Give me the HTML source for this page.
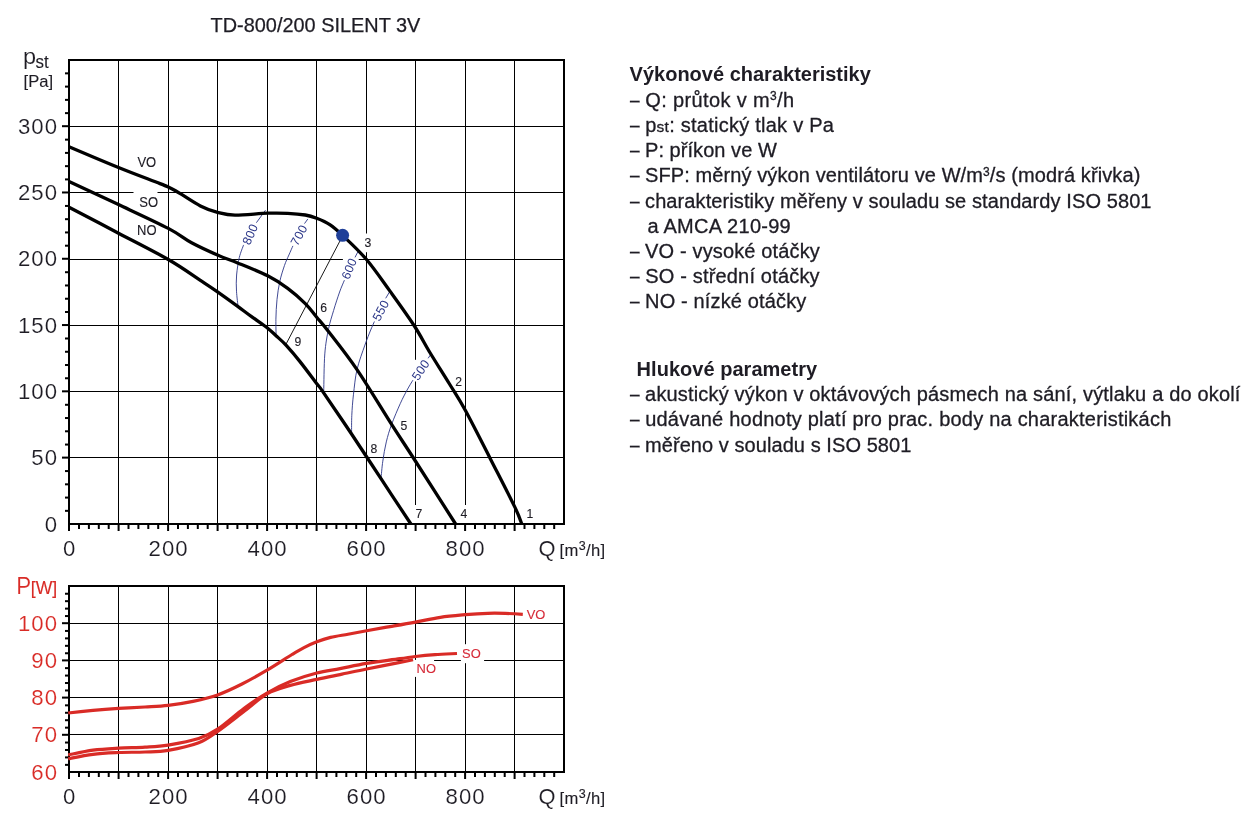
<!DOCTYPE html>
<html lang="cs">
<head>
<meta charset="utf-8">
<title>TD-800/200 SILENT 3V</title>
<style>
html,body{margin:0;padding:0;background:#fff;}
body{width:1255px;height:821px;position:relative;overflow:hidden;font-family:"Liberation Sans",sans-serif;color:#1e1c24;}
svg{position:absolute;left:0;top:0;display:block;}
.l{position:absolute;white-space:nowrap;font-size:20px;line-height:23px;height:23px;-webkit-text-stroke:0.3px #1e1c24;}
.l.b{font-weight:bold;-webkit-text-stroke:0;}
.l sup{font-size:12px;line-height:0;vertical-align:baseline;position:relative;top:-6.5px;}
.l .sm{font-size:15.5px;}
.l .d{display:inline-block;width:9.8px;transform:scaleX(0.86);transform-origin:0 50%;letter-spacing:0;}
#title{position:absolute;left:210.6px;top:14.1px;font-size:19.9px;line-height:23px;white-space:nowrap;-webkit-text-stroke:0.25px #1e1c24;}
</style>
</head>
<body>
<svg width="1255" height="821" viewBox="0 0 1255 821" font-family="'Liberation Sans', sans-serif" stroke-linecap="butt">
<g fill="#000" shape-rendering="crispEdges"><rect x="118" y="60" width="1" height="464"/><rect x="168" y="60" width="1" height="464"/><rect x="217" y="60" width="1" height="464"/><rect x="267" y="60" width="1" height="464"/><rect x="316" y="60" width="1" height="464"/><rect x="366" y="60" width="1" height="464"/><rect x="415" y="60" width="1" height="464"/><rect x="465" y="60" width="1" height="464"/><rect x="514" y="60" width="1" height="464"/><rect x="69" y="126" width="495" height="1"/><rect x="69" y="192" width="495" height="1"/><rect x="69" y="259" width="495" height="1"/><rect x="69" y="325" width="495" height="1"/><rect x="69" y="391" width="495" height="1"/><rect x="69" y="457" width="495" height="1"/></g>
<rect x="133.5" y="190.4" width="24.0" height="4.0" fill="#fff"/>
<rect x="342.9" y="257.5" width="15.8" height="4.0" fill="#fff"/>
<rect x="364.5" y="233.5" width="4.0" height="18.7" fill="#fff"/>
<rect x="413.6" y="505.0" width="4.0" height="19.0" fill="#fff"/>
<rect x="463.4" y="505.0" width="4.0" height="19.0" fill="#fff"/>
<rect x="413.5" y="359.8" width="4.0" height="21.7" fill="#fff"/>
<path d="M265.5 210.2L256.4 222.7" stroke="#2b3688" stroke-width="0.9" fill="none"/>
<path d="M243.6 244.9C242.9 247.0 240.5 252.5 239.3 257.5C238.1 262.5 237.1 269.4 236.6 275.0C236.1 280.6 236.2 285.8 236.5 291.2C236.8 296.6 237.9 304.9 238.2 307.6" stroke="#2b3688" stroke-width="0.9" fill="none"/>
<path d="M307.8 219.0L304.5 223.6" stroke="#2b3688" stroke-width="0.9" fill="none"/>
<path d="M292.9 245.9C292.2 247.4 290.3 251.8 288.9 255.0C287.5 258.2 286.0 261.0 284.5 265.4C283.0 269.8 281.1 275.7 279.8 281.4C278.6 287.1 277.6 293.2 277.0 299.5C276.4 305.8 276.0 313.1 275.9 319.2C275.8 325.3 276.1 333.4 276.1 336.3" stroke="#2b3688" stroke-width="0.9" fill="none"/>
<path d="M357.8 251.9L355.0 257.4" stroke="#2b3688" stroke-width="0.9" fill="none"/>
<path d="M344.4 280.2C343.6 282.2 341.4 286.9 339.6 292.0C337.8 297.1 335.4 304.4 333.6 310.5C331.8 316.6 330.1 321.4 328.6 328.6C327.1 335.8 325.6 343.4 324.8 353.9C324.0 364.4 323.9 385.2 323.7 391.5" stroke="#2b3688" stroke-width="0.9" fill="none"/>
<path d="M389.9 291.3L385.7 298.3" stroke="#2b3688" stroke-width="0.9" fill="none"/>
<path d="M374.4 321.5C373.8 322.9 372.3 326.1 370.7 330.0C369.1 333.9 367.2 338.5 364.9 345.1C362.6 351.7 358.9 361.4 357.0 369.6C355.1 377.8 354.4 386.6 353.5 394.2C352.6 401.8 352.1 408.9 351.8 415.3C351.5 421.7 351.6 429.6 351.6 432.5" stroke="#2b3688" stroke-width="0.9" fill="none"/>
<path d="M430.9 354.3L428.1 358.3" stroke="#2b3688" stroke-width="0.9" fill="none"/>
<path d="M412.9 380.2C411.9 381.8 409.2 386.1 407.1 390.0C405.0 393.9 403.0 397.6 400.4 403.3C397.8 409.0 394.0 418.0 391.6 424.4C389.2 430.8 387.8 435.8 386.3 441.9C384.8 448.0 383.7 455.1 382.8 461.2C381.9 467.3 381.3 475.8 381.0 478.7" stroke="#2b3688" stroke-width="0.9" fill="none"/>
<line x1="342.9" y1="235.3" x2="285.8" y2="344.6" stroke="#000" stroke-width="0.9"/>
<path d="M69.0 146.7C77.2 150.2 103.3 161.3 118.5 167.5C133.7 173.7 151.7 180.3 160.0 183.6C168.3 186.8 165.7 185.8 168.3 187.0C170.9 188.2 173.1 189.4 175.5 190.8C177.9 192.2 178.7 192.7 182.8 195.2C187.0 197.7 194.6 203.0 200.4 205.9C206.2 208.8 211.7 210.9 217.5 212.4C223.3 213.9 226.6 215.1 235.0 215.2C243.4 215.3 258.9 213.5 267.7 213.2C276.5 212.9 281.4 213.0 287.7 213.3C294.0 213.6 300.5 214.2 305.3 215.0C310.1 215.8 312.6 216.7 316.7 218.3C320.8 219.9 325.5 221.8 329.8 224.6C334.1 227.4 336.4 229.5 342.5 235.3C348.6 241.1 358.4 250.0 366.3 259.3C374.2 268.6 381.8 279.8 389.8 290.9C397.8 302.0 407.7 315.6 414.4 326.0C421.1 336.4 424.3 343.3 430.2 353.0C436.1 362.7 443.6 374.4 449.5 384.0C455.4 393.6 458.6 398.0 465.3 410.3C472.0 422.6 481.6 441.6 489.8 457.7C498.0 473.8 509.3 495.6 514.6 506.6C519.9 517.6 520.6 521.1 521.8 524.0" stroke="#000" stroke-width="3.3" fill="none" stroke-linejoin="round"/>
<path d="M69.0 181.4C77.2 185.3 102.0 196.8 118.5 204.6C135.1 212.4 156.1 222.0 168.3 228.4C180.5 234.8 183.4 238.4 191.6 242.8C199.8 247.2 209.8 251.7 217.5 255.1C225.2 258.5 229.3 259.6 237.7 263.0C246.1 266.4 259.4 271.6 267.7 275.8C276.0 280.0 281.4 283.7 287.7 288.3C294.0 292.9 300.5 298.8 305.3 303.6C310.1 308.4 312.9 312.6 316.7 317.2C320.5 321.8 321.4 322.3 328.1 331.0C334.8 339.7 346.4 354.0 357.0 369.6C367.6 385.2 382.0 409.4 391.6 424.4C401.2 439.4 403.7 442.9 414.4 459.5C425.1 476.1 448.7 513.2 455.6 524.0" stroke="#000" stroke-width="3.3" fill="none" stroke-linejoin="round"/>
<path d="M69.0 207.2C77.2 211.5 102.0 224.5 118.5 233.2C135.1 241.9 154.7 251.7 168.3 259.5C181.9 267.3 191.8 274.7 200.0 280.1C208.2 285.5 211.2 287.4 217.5 291.8C223.8 296.2 231.8 302.0 237.7 306.3C243.5 310.6 247.6 313.8 252.6 317.4C257.6 321.0 263.8 325.1 267.7 328.2C271.6 331.3 273.2 333.2 276.3 336.0C279.4 338.8 282.1 340.9 286.0 345.2C289.9 349.5 294.9 355.2 300.0 361.6C305.1 368.0 312.8 378.5 316.6 383.5C320.4 388.5 317.1 383.4 322.8 391.6C328.5 399.9 341.2 418.5 350.9 433.0C360.6 447.5 371.0 463.5 381.0 478.7C391.0 493.9 405.9 516.5 410.9 524.0" stroke="#000" stroke-width="3.3" fill="none" stroke-linejoin="round"/>
<circle cx="342.6" cy="235.3" r="6.5" fill="#1f3f98"/>
<g fill="#000"><rect x="65" y="509.843" width="3.5" height="2"/><rect x="65" y="496.586" width="3.5" height="2"/><rect x="65" y="483.329" width="3.5" height="2"/><rect x="65" y="470.071" width="3.5" height="2"/><rect x="65" y="443.557" width="3.5" height="2"/><rect x="65" y="430.3" width="3.5" height="2"/><rect x="65" y="417.043" width="3.5" height="2"/><rect x="65" y="403.786" width="3.5" height="2"/><rect x="65" y="377.271" width="3.5" height="2"/><rect x="65" y="364.014" width="3.5" height="2"/><rect x="65" y="350.757" width="3.5" height="2"/><rect x="65" y="337.5" width="3.5" height="2"/><rect x="65" y="310.986" width="3.5" height="2"/><rect x="65" y="297.729" width="3.5" height="2"/><rect x="65" y="284.471" width="3.5" height="2"/><rect x="65" y="271.214" width="3.5" height="2"/><rect x="65" y="244.7" width="3.5" height="2"/><rect x="65" y="231.443" width="3.5" height="2"/><rect x="65" y="218.186" width="3.5" height="2"/><rect x="65" y="204.929" width="3.5" height="2"/><rect x="65" y="178.414" width="3.5" height="2"/><rect x="65" y="165.157" width="3.5" height="2"/><rect x="65" y="151.9" width="3.5" height="2"/><rect x="65" y="138.643" width="3.5" height="2"/><rect x="65" y="112.129" width="3.5" height="2"/><rect x="65" y="98.8714" width="3.5" height="2"/><rect x="65" y="85.6143" width="3.5" height="2"/><rect x="65" y="72.3571" width="3.5" height="2"/><rect x="62" y="456.614" width="6.5" height="2"/><rect x="62" y="390.329" width="6.5" height="2"/><rect x="62" y="324.043" width="6.5" height="2"/><rect x="62" y="257.757" width="6.5" height="2"/><rect x="62" y="191.471" width="6.5" height="2"/><rect x="62" y="125.186" width="6.5" height="2"/><rect x="78" y="524.5" width="2" height="4.5"/><rect x="87.9" y="524.5" width="2" height="4.5"/><rect x="97.8" y="524.5" width="2" height="4.5"/><rect x="107.7" y="524.5" width="2" height="4.5"/><rect x="117.6" y="524.5" width="2" height="6.5"/><rect x="127.5" y="524.5" width="2" height="4.5"/><rect x="137.4" y="524.5" width="2" height="4.5"/><rect x="147.3" y="524.5" width="2" height="4.5"/><rect x="157.2" y="524.5" width="2" height="4.5"/><rect x="167.1" y="524.5" width="2" height="6.5"/><rect x="177" y="524.5" width="2" height="4.5"/><rect x="186.9" y="524.5" width="2" height="4.5"/><rect x="196.8" y="524.5" width="2" height="4.5"/><rect x="206.7" y="524.5" width="2" height="4.5"/><rect x="216.6" y="524.5" width="2" height="6.5"/><rect x="226.5" y="524.5" width="2" height="4.5"/><rect x="236.4" y="524.5" width="2" height="4.5"/><rect x="246.3" y="524.5" width="2" height="4.5"/><rect x="256.2" y="524.5" width="2" height="4.5"/><rect x="266.1" y="524.5" width="2" height="6.5"/><rect x="276" y="524.5" width="2" height="4.5"/><rect x="285.9" y="524.5" width="2" height="4.5"/><rect x="295.8" y="524.5" width="2" height="4.5"/><rect x="305.7" y="524.5" width="2" height="4.5"/><rect x="315.6" y="524.5" width="2" height="6.5"/><rect x="325.5" y="524.5" width="2" height="4.5"/><rect x="335.4" y="524.5" width="2" height="4.5"/><rect x="345.3" y="524.5" width="2" height="4.5"/><rect x="355.2" y="524.5" width="2" height="4.5"/><rect x="365.1" y="524.5" width="2" height="6.5"/><rect x="375" y="524.5" width="2" height="4.5"/><rect x="384.9" y="524.5" width="2" height="4.5"/><rect x="394.8" y="524.5" width="2" height="4.5"/><rect x="404.7" y="524.5" width="2" height="4.5"/><rect x="414.6" y="524.5" width="2" height="6.5"/><rect x="424.5" y="524.5" width="2" height="4.5"/><rect x="434.4" y="524.5" width="2" height="4.5"/><rect x="444.3" y="524.5" width="2" height="4.5"/><rect x="454.2" y="524.5" width="2" height="4.5"/><rect x="464.1" y="524.5" width="2" height="6.5"/><rect x="474" y="524.5" width="2" height="4.5"/><rect x="483.9" y="524.5" width="2" height="4.5"/><rect x="493.8" y="524.5" width="2" height="4.5"/><rect x="503.7" y="524.5" width="2" height="4.5"/><rect x="513.6" y="524.5" width="2" height="6.5"/><rect x="523.5" y="524.5" width="2" height="4.5"/><rect x="533.4" y="524.5" width="2" height="4.5"/><rect x="543.3" y="524.5" width="2" height="4.5"/><rect x="553.2" y="524.5" width="2" height="4.5"/></g>
<g fill="#000" shape-rendering="crispEdges"><rect x="68" y="525" width="2" height="6"/><rect x="68" y="59" width="497" height="2"/><rect x="68" y="523" width="497" height="2"/><rect x="68" y="59" width="2" height="466"/><rect x="563" y="59" width="2" height="466"/></g>
<text transform="translate(250.0 234.3) rotate(-66.5)" x="0.15" y="4.45" font-size="12.4" letter-spacing="0.3" text-anchor="middle" fill="#2b3688">800</text>
<text transform="translate(298.7 235.2) rotate(-61.5)" x="0.15" y="4.45" font-size="12.4" letter-spacing="0.3" text-anchor="middle" fill="#2b3688">700</text>
<text transform="translate(349.0 268.7) rotate(-67.5)" x="0.15" y="4.45" font-size="12.4" letter-spacing="0.3" text-anchor="middle" fill="#2b3688">600</text>
<text transform="translate(380.5 310.5) rotate(-62.0)" x="0.15" y="4.45" font-size="12.4" letter-spacing="0.3" text-anchor="middle" fill="#2b3688">550</text>
<text transform="translate(420.5 369.9) rotate(-56.5)" x="0.15" y="4.45" font-size="12.4" letter-spacing="0.3" text-anchor="middle" fill="#2b3688">500</text>
<text transform="translate(529.8 517.8)" font-size="12.2" letter-spacing="0.00" text-anchor="middle" fill="#1e1c24" stroke="#1e1c24" stroke-width="0.12">1</text>
<text transform="translate(458.6 386.3)" font-size="12.2" letter-spacing="0.00" text-anchor="middle" fill="#1e1c24" stroke="#1e1c24" stroke-width="0.12">2</text>
<text transform="translate(367.9 246.6)" font-size="12.2" letter-spacing="0.00" text-anchor="middle" fill="#1e1c24" stroke="#1e1c24" stroke-width="0.12">3</text>
<text transform="translate(463.9 517.8)" font-size="12.2" letter-spacing="0.00" text-anchor="middle" fill="#1e1c24" stroke="#1e1c24" stroke-width="0.12">4</text>
<text transform="translate(403.9 429.6)" font-size="12.2" letter-spacing="0.00" text-anchor="middle" fill="#1e1c24" stroke="#1e1c24" stroke-width="0.12">5</text>
<text transform="translate(323.7 312.4)" font-size="12.2" letter-spacing="0.00" text-anchor="middle" fill="#1e1c24" stroke="#1e1c24" stroke-width="0.12">6</text>
<text transform="translate(418.8 517.8)" font-size="12.2" letter-spacing="0.00" text-anchor="middle" fill="#1e1c24" stroke="#1e1c24" stroke-width="0.12">7</text>
<text transform="translate(374.0 452.6)" font-size="12.2" letter-spacing="0.00" text-anchor="middle" fill="#1e1c24" stroke="#1e1c24" stroke-width="0.12">8</text>
<text transform="translate(297.9 345.6)" font-size="12.2" letter-spacing="0.00" text-anchor="middle" fill="#1e1c24" stroke="#1e1c24" stroke-width="0.12">9</text>
<text transform="translate(146.8 166.9) scale(0.930 1)" font-size="14" letter-spacing="0.00" text-anchor="middle" fill="#1e1c24" stroke="#1e1c24" stroke-width="0.12">VO</text>
<text transform="translate(148.6 207.3) scale(0.930 1)" font-size="14" letter-spacing="0.00" text-anchor="middle" fill="#1e1c24" stroke="#1e1c24" stroke-width="0.12">SO</text>
<text transform="translate(146.8 235.3) scale(0.930 1)" font-size="14" letter-spacing="0.00" text-anchor="middle" fill="#1e1c24" stroke="#1e1c24" stroke-width="0.12">NO</text>
<text transform="translate(58.0 531.5) scale(1.000 1)" font-size="22.2" letter-spacing="1.00" text-anchor="end" fill="#1e1c24" stroke="#fff" stroke-width="0.15">0</text>
<text transform="translate(58.0 465.2) scale(1.000 1)" font-size="22.2" letter-spacing="1.00" text-anchor="end" fill="#1e1c24" stroke="#fff" stroke-width="0.15">50</text>
<text transform="translate(58.0 398.9) scale(1.000 1)" font-size="22.2" letter-spacing="1.00" text-anchor="end" fill="#1e1c24" stroke="#fff" stroke-width="0.15">100</text>
<text transform="translate(58.0 332.6) scale(1.000 1)" font-size="22.2" letter-spacing="1.00" text-anchor="end" fill="#1e1c24" stroke="#fff" stroke-width="0.15">150</text>
<text transform="translate(58.0 266.4) scale(1.000 1)" font-size="22.2" letter-spacing="1.00" text-anchor="end" fill="#1e1c24" stroke="#fff" stroke-width="0.15">200</text>
<text transform="translate(58.0 200.1) scale(1.000 1)" font-size="22.2" letter-spacing="1.00" text-anchor="end" fill="#1e1c24" stroke="#fff" stroke-width="0.15">250</text>
<text transform="translate(58.0 133.8) scale(1.000 1)" font-size="22.2" letter-spacing="1.00" text-anchor="end" fill="#1e1c24" stroke="#fff" stroke-width="0.15">300</text>
<text transform="translate(69.6 555.8) scale(1.000 1)" font-size="22.2" letter-spacing="1.00" text-anchor="middle" fill="#1e1c24" stroke="#fff" stroke-width="0.15">0</text>
<text transform="translate(168.6 555.8) scale(1.000 1)" font-size="22.2" letter-spacing="1.00" text-anchor="middle" fill="#1e1c24" stroke="#fff" stroke-width="0.15">200</text>
<text transform="translate(267.6 555.8) scale(1.000 1)" font-size="22.2" letter-spacing="1.00" text-anchor="middle" fill="#1e1c24" stroke="#fff" stroke-width="0.15">400</text>
<text transform="translate(366.6 555.8) scale(1.000 1)" font-size="22.2" letter-spacing="1.00" text-anchor="middle" fill="#1e1c24" stroke="#fff" stroke-width="0.15">600</text>
<text transform="translate(465.6 555.8) scale(1.000 1)" font-size="22.2" letter-spacing="1.00" text-anchor="middle" fill="#1e1c24" stroke="#fff" stroke-width="0.15">800</text>
<text transform="translate(23.0 64.3) scale(1.1 1)" font-size="21.4" fill="#1e1c24" stroke="#fff" stroke-width="0.15">p</text>
<text transform="translate(35.6 67.7) scale(0.93 1)" font-size="18.2" fill="#1e1c24" stroke="#1e1c24" stroke-width="0.12">st</text>
<text transform="translate(23.6 86.5)" font-size="16.6" letter-spacing="0.00" text-anchor="start" fill="#1e1c24" stroke="#1e1c24" stroke-width="0.12">[Pa]</text>
<text transform="translate(538.4 555.8) scale(0.97 1)" font-size="22.6" fill="#1e1c24" stroke="#fff" stroke-width="0.15">Q</text>
<text transform="translate(559.5 555.8)" font-size="16.6" letter-spacing="0.35" fill="#1e1c24" stroke="#1e1c24" stroke-width="0.12">[m<tspan font-size="12.5" dy="-5.8">3</tspan><tspan dy="5.8">/h]</tspan></text>
<g fill="#000" shape-rendering="crispEdges"><rect x="118" y="586" width="1" height="186"/><rect x="168" y="586" width="1" height="186"/><rect x="217" y="586" width="1" height="186"/><rect x="267" y="586" width="1" height="186"/><rect x="316" y="586" width="1" height="186"/><rect x="366" y="586" width="1" height="186"/><rect x="415" y="586" width="1" height="186"/><rect x="465" y="586" width="1" height="186"/><rect x="514" y="586" width="1" height="186"/><rect x="69" y="623" width="495" height="1"/><rect x="69" y="660" width="495" height="1"/><rect x="69" y="697" width="495" height="1"/><rect x="69" y="734" width="495" height="1"/></g>
<rect x="460.9" y="644.2" width="23.2" height="19.0" fill="#fff"/>
<rect x="413.1" y="659.9" width="21.0" height="17.0" fill="#fff"/>
<g fill="#000"><rect x="65" y="763.86" width="3.5" height="2"/><rect x="65" y="756.42" width="3.5" height="2"/><rect x="65" y="748.98" width="3.5" height="2"/><rect x="65" y="741.54" width="3.5" height="2"/><rect x="65" y="726.66" width="3.5" height="2"/><rect x="65" y="719.22" width="3.5" height="2"/><rect x="65" y="711.78" width="3.5" height="2"/><rect x="65" y="704.34" width="3.5" height="2"/><rect x="65" y="689.46" width="3.5" height="2"/><rect x="65" y="682.02" width="3.5" height="2"/><rect x="65" y="674.58" width="3.5" height="2"/><rect x="65" y="667.14" width="3.5" height="2"/><rect x="65" y="652.26" width="3.5" height="2"/><rect x="65" y="644.82" width="3.5" height="2"/><rect x="65" y="637.38" width="3.5" height="2"/><rect x="65" y="629.94" width="3.5" height="2"/><rect x="65" y="615.06" width="3.5" height="2"/><rect x="65" y="607.62" width="3.5" height="2"/><rect x="65" y="600.18" width="3.5" height="2"/><rect x="65" y="592.74" width="3.5" height="2"/><rect x="62" y="733.8" width="6.5" height="2"/><rect x="62" y="696.6" width="6.5" height="2"/><rect x="62" y="659.4" width="6.5" height="2"/><rect x="62" y="622.2" width="6.5" height="2"/><rect x="78" y="772.5" width="2" height="4.5"/><rect x="87.9" y="772.5" width="2" height="4.5"/><rect x="97.8" y="772.5" width="2" height="4.5"/><rect x="107.7" y="772.5" width="2" height="4.5"/><rect x="117.6" y="772.5" width="2" height="6.5"/><rect x="127.5" y="772.5" width="2" height="4.5"/><rect x="137.4" y="772.5" width="2" height="4.5"/><rect x="147.3" y="772.5" width="2" height="4.5"/><rect x="157.2" y="772.5" width="2" height="4.5"/><rect x="167.1" y="772.5" width="2" height="6.5"/><rect x="177" y="772.5" width="2" height="4.5"/><rect x="186.9" y="772.5" width="2" height="4.5"/><rect x="196.8" y="772.5" width="2" height="4.5"/><rect x="206.7" y="772.5" width="2" height="4.5"/><rect x="216.6" y="772.5" width="2" height="6.5"/><rect x="226.5" y="772.5" width="2" height="4.5"/><rect x="236.4" y="772.5" width="2" height="4.5"/><rect x="246.3" y="772.5" width="2" height="4.5"/><rect x="256.2" y="772.5" width="2" height="4.5"/><rect x="266.1" y="772.5" width="2" height="6.5"/><rect x="276" y="772.5" width="2" height="4.5"/><rect x="285.9" y="772.5" width="2" height="4.5"/><rect x="295.8" y="772.5" width="2" height="4.5"/><rect x="305.7" y="772.5" width="2" height="4.5"/><rect x="315.6" y="772.5" width="2" height="6.5"/><rect x="325.5" y="772.5" width="2" height="4.5"/><rect x="335.4" y="772.5" width="2" height="4.5"/><rect x="345.3" y="772.5" width="2" height="4.5"/><rect x="355.2" y="772.5" width="2" height="4.5"/><rect x="365.1" y="772.5" width="2" height="6.5"/><rect x="375" y="772.5" width="2" height="4.5"/><rect x="384.9" y="772.5" width="2" height="4.5"/><rect x="394.8" y="772.5" width="2" height="4.5"/><rect x="404.7" y="772.5" width="2" height="4.5"/><rect x="414.6" y="772.5" width="2" height="6.5"/><rect x="424.5" y="772.5" width="2" height="4.5"/><rect x="434.4" y="772.5" width="2" height="4.5"/><rect x="444.3" y="772.5" width="2" height="4.5"/><rect x="454.2" y="772.5" width="2" height="4.5"/><rect x="464.1" y="772.5" width="2" height="6.5"/><rect x="474" y="772.5" width="2" height="4.5"/><rect x="483.9" y="772.5" width="2" height="4.5"/><rect x="493.8" y="772.5" width="2" height="4.5"/><rect x="503.7" y="772.5" width="2" height="4.5"/><rect x="513.6" y="772.5" width="2" height="6.5"/><rect x="523.5" y="772.5" width="2" height="4.5"/><rect x="533.4" y="772.5" width="2" height="4.5"/><rect x="543.3" y="772.5" width="2" height="4.5"/><rect x="553.2" y="772.5" width="2" height="4.5"/></g>
<g fill="#000" shape-rendering="crispEdges"><rect x="68" y="773" width="2" height="6"/><rect x="68" y="585" width="497" height="2"/><rect x="68" y="771" width="497" height="2"/><rect x="68" y="585" width="2" height="188"/><rect x="563" y="585" width="2" height="188"/></g>
<path d="M68.2 713.0C72.3 712.5 84.6 711.1 93.0 710.3C101.4 709.5 109.9 708.9 118.6 708.4C127.3 707.9 136.8 707.5 145.0 707.0C153.2 706.5 160.1 706.3 168.1 705.4C176.1 704.5 184.8 703.1 193.0 701.4C201.2 699.6 209.4 697.8 217.6 694.9C225.8 692.0 233.7 688.2 242.0 684.0C250.3 679.8 259.1 674.8 267.4 669.9C275.7 665.0 285.9 658.2 292.0 654.5C298.1 650.8 299.9 649.7 304.0 647.6C308.1 645.5 312.4 643.5 316.8 641.8C321.2 640.1 325.4 638.7 330.6 637.4C335.8 636.1 342.0 635.3 348.0 634.2C354.0 633.1 359.6 632.1 366.6 630.8C373.6 629.5 381.9 628.0 390.0 626.6C398.1 625.2 407.0 623.7 415.4 622.1C423.8 620.5 432.1 618.5 440.4 617.3C448.7 616.1 457.5 615.4 465.4 614.7C473.3 614.0 481.0 613.5 487.7 613.3C494.4 613.1 499.5 613.2 505.3 613.4C511.1 613.6 519.9 614.2 522.8 614.4" stroke="#d92b26" stroke-width="3.2" fill="none" stroke-linejoin="round"/>
<path d="M68.2 755.0C72.3 754.2 84.6 751.3 93.0 750.2C101.4 749.1 109.9 748.7 118.6 748.2C127.3 747.7 136.8 747.7 145.0 747.2C153.2 746.7 159.2 746.6 168.1 745.1C177.0 743.6 190.4 741.1 198.7 738.5C206.9 735.9 210.0 734.3 217.6 729.2C225.2 724.1 236.2 714.1 244.5 708.0C252.8 701.9 259.8 697.2 267.4 692.8C275.0 688.4 282.1 684.8 290.3 681.5C298.5 678.2 308.5 675.1 316.8 673.0C325.1 670.9 331.7 670.2 340.0 668.6C348.3 667.0 356.6 665.0 366.6 663.4C376.6 661.8 391.9 659.9 400.0 658.7C408.1 657.6 409.5 657.2 415.4 656.5C421.2 655.8 428.2 655.1 435.1 654.6C442.0 654.1 453.4 653.7 457.0 653.5" stroke="#d92b26" stroke-width="3.2" fill="none" stroke-linejoin="round"/>
<path d="M68.2 758.8C72.3 758.0 84.6 755.3 93.0 754.3C101.4 753.2 109.9 752.9 118.6 752.5C127.3 752.1 136.8 752.4 145.0 752.0C153.2 751.6 159.2 751.8 168.1 750.3C177.0 748.8 190.4 745.9 198.7 742.7C206.9 739.6 210.0 736.7 217.6 731.4C225.2 726.1 236.2 717.3 244.5 711.0C252.8 704.7 259.8 697.9 267.4 693.6C275.0 689.3 282.1 687.8 290.3 685.4C298.5 683.0 308.5 681.2 316.8 679.4C325.1 677.6 331.7 676.3 340.0 674.6C348.3 672.9 356.6 671.0 366.6 669.0C376.6 667.0 392.3 663.9 400.0 662.4C407.7 660.9 410.8 660.2 413.0 659.8" stroke="#d92b26" stroke-width="3.2" fill="none" stroke-linejoin="round"/>
<text transform="translate(536.0 618.7) scale(0.950 1)" font-size="13.6" letter-spacing="0.00" text-anchor="middle" fill="#d62a38" stroke="#d62a38" stroke-width="0.12">VO</text>
<text transform="translate(471.4 657.7) scale(0.950 1)" font-size="13.6" letter-spacing="0.00" text-anchor="middle" fill="#d62a38" stroke="#d62a38" stroke-width="0.12">SO</text>
<text transform="translate(426.3 672.9) scale(0.950 1)" font-size="13.6" letter-spacing="0.00" text-anchor="middle" fill="#d62a38" stroke="#d62a38" stroke-width="0.12">NO</text>
<text transform="translate(58.0 779.5) scale(1.000 1)" font-size="22.2" letter-spacing="1.00" text-anchor="end" fill="#d92b26" stroke="#fff" stroke-width="0.15">60</text>
<text transform="translate(58.0 742.3) scale(1.000 1)" font-size="22.2" letter-spacing="1.00" text-anchor="end" fill="#d92b26" stroke="#fff" stroke-width="0.15">70</text>
<text transform="translate(58.0 705.1) scale(1.000 1)" font-size="22.2" letter-spacing="1.00" text-anchor="end" fill="#d92b26" stroke="#fff" stroke-width="0.15">80</text>
<text transform="translate(58.0 667.9) scale(1.000 1)" font-size="22.2" letter-spacing="1.00" text-anchor="end" fill="#d92b26" stroke="#fff" stroke-width="0.15">90</text>
<text transform="translate(58.0 630.7) scale(1.000 1)" font-size="22.2" letter-spacing="1.00" text-anchor="end" fill="#d92b26" stroke="#fff" stroke-width="0.15">100</text>
<text transform="translate(69.6 803.7) scale(1.000 1)" font-size="22.2" letter-spacing="1.00" text-anchor="middle" fill="#1e1c24" stroke="#fff" stroke-width="0.15">0</text>
<text transform="translate(168.6 803.7) scale(1.000 1)" font-size="22.2" letter-spacing="1.00" text-anchor="middle" fill="#1e1c24" stroke="#fff" stroke-width="0.15">200</text>
<text transform="translate(267.6 803.7) scale(1.000 1)" font-size="22.2" letter-spacing="1.00" text-anchor="middle" fill="#1e1c24" stroke="#fff" stroke-width="0.15">400</text>
<text transform="translate(366.6 803.7) scale(1.000 1)" font-size="22.2" letter-spacing="1.00" text-anchor="middle" fill="#1e1c24" stroke="#fff" stroke-width="0.15">600</text>
<text transform="translate(465.6 803.7) scale(1.000 1)" font-size="22.2" letter-spacing="1.00" text-anchor="middle" fill="#1e1c24" stroke="#fff" stroke-width="0.15">800</text>
<text transform="translate(16.2 594.0) scale(0.95 1)" font-size="23.6" fill="#d92b26" stroke="#fff" stroke-width="0.15">P</text>
<text transform="translate(30.8 594.0) scale(1.0 1)" font-size="17.6" fill="#d92b26" stroke="#d92b26" stroke-width="0.12">[W]</text>
<text transform="translate(538.4 803.8) scale(0.97 1)" font-size="22.6" fill="#1e1c24" stroke="#fff" stroke-width="0.15">Q</text>
<text transform="translate(559.5 803.7)" font-size="16.6" letter-spacing="0.35" fill="#1e1c24" stroke="#1e1c24" stroke-width="0.12">[m<tspan font-size="12.5" dy="-5.8">3</tspan><tspan dy="5.8">/h]</tspan></text>
</svg>
<div id="title">TD-800/200 SILENT 3V</div>
<div class="l b" style="left:629.6px;top:63.4px;letter-spacing:0.000px">Výkonové charakteristiky</div>
<div class="l " style="left:629.6px;top:88.8px;letter-spacing:0.362px"><span class="d">–</span> Q: průtok v m<sup>3</sup>/h</div>
<div class="l " style="left:629.6px;top:113.8px;letter-spacing:0.249px"><span class="d">–</span> p<span class="sm">st</span>: statický tlak v Pa</div>
<div class="l " style="left:629.6px;top:139.1px;letter-spacing:0.050px"><span class="d">–</span> P: příkon ve W</div>
<div class="l " style="left:629.6px;top:164.4px;letter-spacing:0.098px"><span class="d">–</span> SFP: měrný výkon ventilátoru ve W/m<sup>3</sup>/s (modrá křivka)</div>
<div class="l " style="left:629.6px;top:189.5px;letter-spacing:0.096px"><span class="d">–</span> charakteristiky měřeny v souladu se standardy ISO 5801</div>
<div class="l " style="left:647.4px;top:214.5px;letter-spacing:0.270px">a AMCA 210-99</div>
<div class="l " style="left:629.6px;top:239.7px;letter-spacing:0.145px"><span class="d">–</span> VO - vysoké otáčky</div>
<div class="l " style="left:629.6px;top:265.1px;letter-spacing:0.182px"><span class="d">–</span> SO - střední otáčky</div>
<div class="l " style="left:629.6px;top:290.3px;letter-spacing:0.146px"><span class="d">–</span> NO - nízké otáčky</div>
<div class="l b" style="left:636.6px;top:358.2px;letter-spacing:0.030px">Hlukové parametry</div>
<div class="l " style="left:629.6px;top:383.1px;letter-spacing:0.167px"><span class="d">–</span> akustický výkon v oktávových pásmech na sání, výtlaku a do okolí</div>
<div class="l " style="left:629.6px;top:408.1px;letter-spacing:0.222px"><span class="d">–</span> udávané hodnoty platí pro prac. body na charakteristikách</div>
<div class="l " style="left:629.6px;top:433.5px;letter-spacing:0.066px"><span class="d">–</span> měřeno v souladu s ISO 5801</div>
</body>
</html>
